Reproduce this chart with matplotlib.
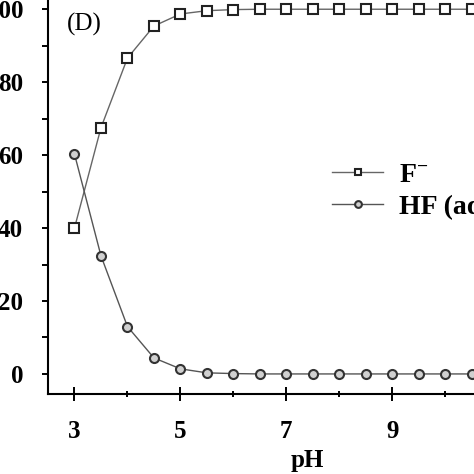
import numpy as np
import matplotlib.pyplot as plt

plt.rcParams['font.family'] = ['Liberation Serif', 'DejaVu Serif']
plt.rcParams['mathtext.fontset'] = 'custom'
plt.rcParams['mathtext.rm'] = 'Liberation Serif:bold'
plt.rcParams['mathtext.default'] = 'rm'

# pH values and species distribution (%)
ph = [3, 3.5, 4, 4.5, 5, 5.5, 6, 6.5, 7, 7.5, 8, 8.5, 9, 9.5, 10, 10.5, 11, 11.5, 12]
f_minus = [40, 67.5, 86.6, 95.4, 98.7, 99.6, 99.9, 100, 100, 100, 100, 100, 100, 100, 100, 100, 100, 100, 100]
hf_aq = [60.3, 32.4, 13.0, 4.4, 1.4, 0.3, 0.1, 0, 0, 0, 0, 0, 0, 0, 0, 0, 0, 0, 0]

x_major = [3, 5, 7, 9]
x_minor = [4, 6, 8, 10]
y_major = [0, 20, 40, 60, 80, 100]
y_minor = [10, 30, 50, 70, 90]

fig = plt.figure(figsize=(4.74, 4.74), dpi=100)
ax = fig.add_axes([48/474, 80/474, 519/474, 403/474])

ax.plot(ph, f_minus, color='#666666', lw=1.0, marker='s', ms=6.5,
        mfc='white', mec='#222222', mew=1.5, label='F$^{-}$')
ax.plot(ph, hf_aq, color='#555555', lw=1.0, marker='o', ms=6.5,
        mfc='#d0d0d0', mec='#333333', mew=1.5, label='HF (aq)')

ax.set_xlim(2.5, 12.3)
ax.set_ylim(-5.5, 105)
ax.set_xticks(x_major)
ax.set_xticks(x_minor, minor=True)
ax.set_yticks(y_major)
ax.set_yticks(y_minor, minor=True)

for s in ['top', 'right']:
    ax.spines[s].set_visible(False)
for s in ['left', 'bottom']:
    ax.spines[s].set_linewidth(1.5)

ax.tick_params(axis='x', which='major', direction='inout', length=10, width=1.4, pad=14, labelsize=18)
ax.tick_params(axis='x', which='minor', direction='inout', length=5, width=1.4)
ax.tick_params(axis='y', which='both', direction='out', length=4, width=1.4, pad=14, labelsize=18)
for lab in ax.get_xticklabels() + ax.get_yticklabels():
    lab.set_fontweight('bold')

ax.set_xlabel('pH', fontsize=18, fontweight='bold', labelpad=4)

fig.text(67/474, 1 - 24/474, '(D)', fontsize=18, ha='left', va='center')

ax.legend(loc='center left', bbox_to_anchor=(332/474, 1 - 191/474),
          bbox_transform=fig.transFigure, frameon=False,
          prop={'weight': 'bold', 'size': 20}, handlelength=1.85, markerscale=0.75,
          handletextpad=0.55, labelspacing=0.25, borderpad=0, borderaxespad=0)

plt.savefig('out.png', dpi=100)
